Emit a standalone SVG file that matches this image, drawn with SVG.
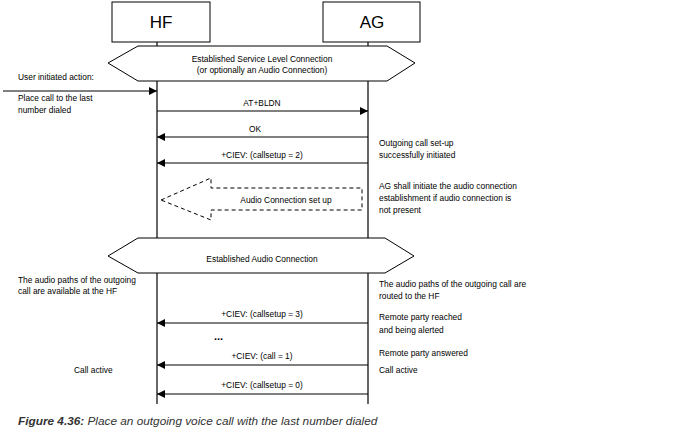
<svg xmlns="http://www.w3.org/2000/svg" width="682" height="437" viewBox="0 0 682 437">
<style>
text{font-family:"Liberation Sans",Arial,sans-serif;font-size:8.4px;fill:#000}
.t{font-size:17px}
.c{text-anchor:middle}
.b{fill:#fff;stroke:#000;stroke-width:1}
.l{stroke:#000;stroke-width:1.2;fill:none}
.m{stroke:#000;stroke-width:1;fill:none}
.cap{font-size:11.8px;font-style:italic;fill:#333}
</style>
<defs>
<marker id="a" viewBox="0 0 10 10" refX="10" refY="5" markerWidth="8" markerHeight="8" markerUnits="userSpaceOnUse" orient="auto"><path d="M0,0L10,5L0,10z" fill="#000"/></marker>
</defs>
<g id="lifelines"><line class="l" x1="157" y1="42" x2="157" y2="404"/><line class="l" x1="368" y1="42" x2="368" y2="404"/></g>
<g id="HF"><rect class="b" x="112" y="2" width="98" height="40"/><text class="t c" x="161" y="28">HF</text></g>
<g id="AG"><rect class="b" x="323" y="2" width="97" height="40"/><text class="t c" x="372" y="28">AG</text></g>
<g id="slc"><polygon class="b" points="108,63 138,46 387,46 415,63 387,81 138,81"/><text class="c" x="262" y="62">Established Service Level Connection</text><text class="c" x="262" y="73">(or optionally an Audio Connection)</text></g>
<g id="ac"><polygon class="b" points="108,256 138,238 385,238 414,256 385,273 138,273"/><text class="c" x="262" y="262">Established Audio Connection</text></g>
<g id="connectors">
<line class="m" x1="3" y1="91" x2="157" y2="91" marker-end="url(#a)"/>
<line class="m" x1="157" y1="111" x2="368" y2="111" marker-end="url(#a)"/>
<line class="m" x1="368" y1="137" x2="157" y2="137" marker-end="url(#a)"/>
<line class="m" x1="368" y1="163" x2="157" y2="163" marker-end="url(#a)"/>
<polygon points="161,200 211,178 211,188 362,188 362,210 211,210 211,220" fill="none" stroke="#000" stroke-dasharray="4,3"/>
<line class="m" x1="368" y1="323" x2="157" y2="323" marker-end="url(#a)"/>
<line class="m" x1="368" y1="365" x2="157" y2="365" marker-end="url(#a)"/>
<line class="m" x1="368" y1="394" x2="157" y2="394" marker-end="url(#a)"/>
</g>
<g id="labels">
<text class="c" x="262" y="106">AT+BLDN</text>
<text class="c" x="255" y="132">OK</text>
<text class="c" x="262" y="158">+CIEV: (callsetup = 2)</text>
<text class="c" x="286" y="203">Audio Connection set up</text>
<text class="c" x="262" y="317">+CIEV: (callsetup = 3)</text>
<text x="214" y="340" style="font-size:11px;font-weight:bold">...</text>
<text class="c" x="262" y="359">+CIEV: (call = 1)</text>
<text class="c" x="262" y="388">+CIEV: (callsetup = 0)</text>
<text x="18" y="80">User initiated action:</text>
<text x="18" y="101">Place call to the last</text>
<text x="18" y="113">number dialed</text>
<text x="379" y="146">Outgoing call set-up</text>
<text x="379" y="158">successfully initiated</text>
<text x="379" y="189">AG shall initiate the audio connection</text>
<text x="379" y="201">establishment if audio connection is</text>
<text x="379" y="213">not present</text>
<text x="18" y="283">The audio paths of the outgoing</text>
<text x="18" y="294">call are available at the HF</text>
<text x="379" y="287">The audio paths of the outgoing call are</text>
<text x="379" y="299">routed to the HF</text>
<text x="379" y="320">Remote party reached</text>
<text x="379" y="333">and being alerted</text>
<text x="379" y="356">Remote party answered</text>
<text x="74" y="373">Call active</text>
<text x="379" y="373">Call active</text>
<text class="cap" x="18" y="425"><tspan font-weight="bold">Figure 4.36:</tspan>  Place an outgoing voice call with the last number dialed</text>
</g>
</svg>
